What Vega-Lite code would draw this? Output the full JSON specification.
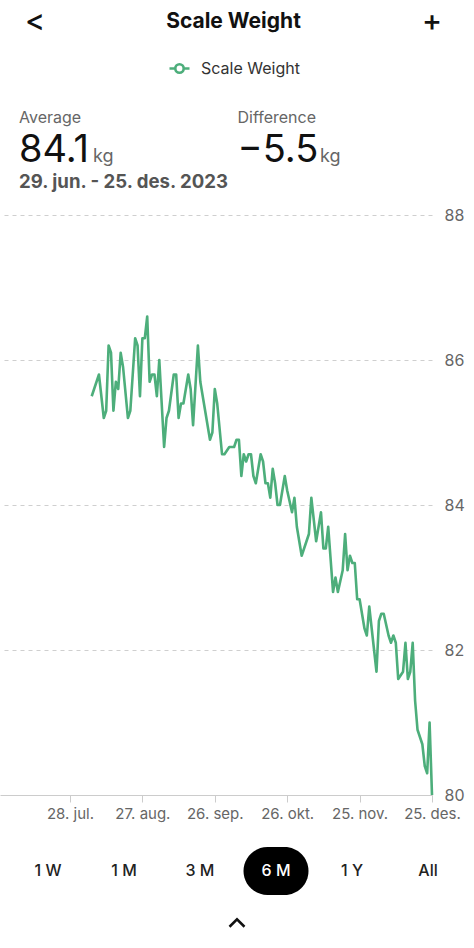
{
  "$schema": "https://vega.github.io/schema/vega-lite/v6.json",
  "padding": 0,
  "spacing": 0,
  "bounds": "flush",
  "background": "white",
  "config": {"view": {"stroke": null}, "font": "Inter"},
  "vconcat": [
    {
      "width": 474,
      "height": 44,
      "data": {"values": [
        {"slot": "back", "label": "<"},
        {"slot": "title", "label": "Scale Weight"},
        {"slot": "add", "label": "+"}
      ]},
      "encoding": {
        "x": {"field": "slot", "type": "nominal", "scale": {"type": "point", "padding": 0, "domain": ["back", "title", "add"], "range": [35, 432]}, "axis": null},
        "text": {"field": "label"}
      },
      "layer": [
        {"transform": [{"filter": "datum.slot == 'title'"}], "mark": {"type": "text", "fontSize": 21, "fontWeight": "bold", "color": "#111", "baseline": "middle", "align": "center"}},
        {"transform": [{"filter": "datum.slot != 'title'"}], "mark": {"type": "text", "fontSize": 30, "fontWeight": 500, "color": "#111", "baseline": "middle", "align": "center"}}
      ]
    },
    {
      "width": 474,
      "height": 171,
      "data": {"values": [
        {"stat": "Average", "value": "84.1", "unit": "kg", "period": "29. jun. - 25. des. 2023"},
        {"stat": "Difference", "value": "−5.5", "unit": "kg"}
      ]},
      "encoding": {
        "x": {"field": "stat", "type": "nominal", "scale": {"type": "point", "padding": 0, "domain": ["Average", "Difference"], "range": [19, 237.5]}, "axis": null}
      },
      "layer": [
        {
          "mark": {"type": "text", "fontSize": 16, "color": "#666", "align": "left", "baseline": "middle"},
          "encoding": {
            "y": {"datum": "label", "type": "nominal", "scale": {"type": "point", "padding": 0, "domain": ["label", "value", "period"], "range": [73.5, 137.5]}, "axis": null},
            "text": {"field": "stat"}
          }
        },
        {
          "mark": {"type": "text", "fontSize": 38, "color": "#111", "align": "left", "baseline": "alphabetic", "dy": 12.5},
          "encoding": {
            "y": {"datum": "value", "type": "nominal"},
            "text": {"field": "value"}
          }
        },
        {
          "transform": [{"filter": "datum.stat == 'Average'"}],
          "mark": {"type": "text", "fontSize": 18, "color": "#666", "align": "left", "baseline": "alphabetic", "dy": 12.5, "dx": 74},
          "encoding": {
            "y": {"datum": "value", "type": "nominal"},
            "text": {"field": "unit"}
          }
        },
        {
          "transform": [{"filter": "datum.stat == 'Difference'"}],
          "mark": {"type": "text", "fontSize": 18, "color": "#666", "align": "left", "baseline": "alphabetic", "dy": 12.5, "dx": 82.5},
          "encoding": {
            "y": {"datum": "value", "type": "nominal"},
            "text": {"field": "unit"}
          }
        },
        {
          "transform": [{"filter": "datum.stat == 'Average'"}],
          "mark": {"type": "text", "fontSize": 18.6, "fontWeight": "bold", "color": "#555", "align": "left", "baseline": "middle"},
          "encoding": {
            "y": {"datum": "period", "type": "nominal"},
            "text": {"field": "period"}
          }
        }
      ]
    },
    {
      "width": 432,
      "height": 580,
      "data": {"values": [
        {"date": "2023-08-06", "weight": 85.5},
        {"date": "2023-08-09", "weight": 85.8},
        {"date": "2023-08-11", "weight": 85.2},
        {"date": "2023-08-12", "weight": 85.3},
        {"date": "2023-08-13", "weight": 86.2},
        {"date": "2023-08-14", "weight": 86.1},
        {"date": "2023-08-15", "weight": 85.3},
        {"date": "2023-08-16", "weight": 85.7},
        {"date": "2023-08-17", "weight": 85.6},
        {"date": "2023-08-18", "weight": 86.1},
        {"date": "2023-08-19", "weight": 85.9},
        {"date": "2023-08-21", "weight": 85.2},
        {"date": "2023-08-22", "weight": 85.3},
        {"date": "2023-08-24", "weight": 86.3},
        {"date": "2023-08-25", "weight": 86.2},
        {"date": "2023-08-26", "weight": 85.5},
        {"date": "2023-08-27", "weight": 86.3},
        {"date": "2023-08-28", "weight": 86.3},
        {"date": "2023-08-29", "weight": 86.6},
        {"date": "2023-08-30", "weight": 85.7},
        {"date": "2023-08-31", "weight": 85.8},
        {"date": "2023-09-01", "weight": 85.8},
        {"date": "2023-09-02", "weight": 85.5},
        {"date": "2023-09-03", "weight": 86.0},
        {"date": "2023-09-05", "weight": 84.8},
        {"date": "2023-09-06", "weight": 85.2},
        {"date": "2023-09-07", "weight": 85.3},
        {"date": "2023-09-09", "weight": 85.8},
        {"date": "2023-09-10", "weight": 85.8},
        {"date": "2023-09-11", "weight": 85.2},
        {"date": "2023-09-12", "weight": 85.4},
        {"date": "2023-09-13", "weight": 85.4},
        {"date": "2023-09-15", "weight": 85.8},
        {"date": "2023-09-16", "weight": 85.6},
        {"date": "2023-09-17", "weight": 85.1},
        {"date": "2023-09-19", "weight": 86.2},
        {"date": "2023-09-20", "weight": 85.7},
        {"date": "2023-09-22", "weight": 85.3},
        {"date": "2023-09-24", "weight": 84.9},
        {"date": "2023-09-25", "weight": 85.0},
        {"date": "2023-09-26", "weight": 85.6},
        {"date": "2023-09-27", "weight": 85.4},
        {"date": "2023-09-29", "weight": 84.7},
        {"date": "2023-09-30", "weight": 84.7},
        {"date": "2023-10-02", "weight": 84.8},
        {"date": "2023-10-04", "weight": 84.8},
        {"date": "2023-10-05", "weight": 84.9},
        {"date": "2023-10-06", "weight": 84.9},
        {"date": "2023-10-07", "weight": 84.4},
        {"date": "2023-10-08", "weight": 84.7},
        {"date": "2023-10-09", "weight": 84.6},
        {"date": "2023-10-10", "weight": 84.7},
        {"date": "2023-10-11", "weight": 84.7},
        {"date": "2023-10-12", "weight": 84.4},
        {"date": "2023-10-13", "weight": 84.3},
        {"date": "2023-10-15", "weight": 84.7},
        {"date": "2023-10-16", "weight": 84.6},
        {"date": "2023-10-17", "weight": 84.3},
        {"date": "2023-10-18", "weight": 84.3},
        {"date": "2023-10-19", "weight": 84.1},
        {"date": "2023-10-20", "weight": 84.5},
        {"date": "2023-10-21", "weight": 84.3},
        {"date": "2023-10-22", "weight": 84.0},
        {"date": "2023-10-23", "weight": 84.0},
        {"date": "2023-10-25", "weight": 84.4},
        {"date": "2023-10-26", "weight": 84.2},
        {"date": "2023-10-28", "weight": 83.9},
        {"date": "2023-10-29", "weight": 84.1},
        {"date": "2023-10-30", "weight": 83.7},
        {"date": "2023-11-01", "weight": 83.3},
        {"date": "2023-11-04", "weight": 83.6},
        {"date": "2023-11-05", "weight": 84.1},
        {"date": "2023-11-07", "weight": 83.5},
        {"date": "2023-11-09", "weight": 83.9},
        {"date": "2023-11-10", "weight": 83.4},
        {"date": "2023-11-11", "weight": 83.4},
        {"date": "2023-11-12", "weight": 83.7},
        {"date": "2023-11-14", "weight": 82.8},
        {"date": "2023-11-15", "weight": 83.0},
        {"date": "2023-11-16", "weight": 82.8},
        {"date": "2023-11-18", "weight": 83.1},
        {"date": "2023-11-19", "weight": 83.6},
        {"date": "2023-11-20", "weight": 83.1},
        {"date": "2023-11-21", "weight": 83.3},
        {"date": "2023-11-22", "weight": 83.2},
        {"date": "2023-11-23", "weight": 83.2},
        {"date": "2023-11-24", "weight": 82.7},
        {"date": "2023-11-25", "weight": 82.7},
        {"date": "2023-11-27", "weight": 82.3},
        {"date": "2023-11-28", "weight": 82.2},
        {"date": "2023-11-29", "weight": 82.6},
        {"date": "2023-11-30", "weight": 82.3},
        {"date": "2023-12-01", "weight": 82.0},
        {"date": "2023-12-02", "weight": 81.7},
        {"date": "2023-12-03", "weight": 82.4},
        {"date": "2023-12-04", "weight": 82.5},
        {"date": "2023-12-05", "weight": 82.5},
        {"date": "2023-12-07", "weight": 82.2},
        {"date": "2023-12-08", "weight": 82.1},
        {"date": "2023-12-09", "weight": 82.2},
        {"date": "2023-12-10", "weight": 82.1},
        {"date": "2023-12-11", "weight": 81.6},
        {"date": "2023-12-13", "weight": 81.7},
        {"date": "2023-12-14", "weight": 82.1},
        {"date": "2023-12-15", "weight": 81.6},
        {"date": "2023-12-16", "weight": 81.7},
        {"date": "2023-12-17", "weight": 82.1},
        {"date": "2023-12-18", "weight": 81.3},
        {"date": "2023-12-19", "weight": 80.9},
        {"date": "2023-12-21", "weight": 80.7},
        {"date": "2023-12-22", "weight": 80.4},
        {"date": "2023-12-23", "weight": 80.3},
        {"date": "2023-12-24", "weight": 81.0},
        {"date": "2023-12-25", "weight": 80.0}
      ]},
      "mark": {"type": "line", "strokeWidth": 2.6, "strokeJoin": "round", "interpolate": "linear"},
      "encoding": {
        "x": {
          "field": "date", "type": "temporal",
          "scale": {"type": "utc", "domain": [{"year": 2023, "month": 6, "date": 29, "utc": true}, {"year": 2023, "month": 12, "date": 25, "utc": true}]},
          "axis": {
            "title": null,
            "values": [
              {"year": 2023, "month": 7, "date": 28, "utc": true},
              {"year": 2023, "month": 8, "date": 27, "utc": true},
              {"year": 2023, "month": 9, "date": 26, "utc": true},
              {"year": 2023, "month": 10, "date": 26, "utc": true},
              {"year": 2023, "month": 11, "date": 25, "utc": true},
              {"year": 2023, "month": 12, "date": 25, "utc": true}
            ],
            "labelExpr": "utcdate(datum.value) + '. ' + ['jan','feb','mar','apr','mai','jun','jul','aug','sep','okt','nov','des'][utcmonth(datum.value)] + '.'",
            "grid": false,
            "domainColor": "#cccccc",
            "tickColor": "#cccccc",
            "tickSize": 7,
            "labelFontSize": 15,
            "labelColor": "#666666",
            "labelPadding": 4,
            "labelOverlap": false,
            "labelFlush": false
          }
        },
        "y": {
          "field": "weight", "type": "quantitative",
          "scale": {"domain": [80, 88], "nice": false, "zero": false},
          "axis": {
            "title": null,
            "orient": "right",
            "values": [80, 82, 84, 86, 88],
            "grid": true,
            "gridDash": [4, 4],
            "gridColor": "#cfcfcf",
            "domain": false,
            "ticks": false,
            "labelPadding": 12,
            "labelFontSize": 16,
            "labelColor": "#666666"
          }
        },
        "color": {
          "datum": "Scale Weight",
          "type": "nominal",
          "scale": {"range": ["#4DAE7B"]},
          "legend": {
            "title": null,
            "orient": "none",
            "legendX": 168,
            "legendY": 57,
            "padding": 0,
            "symbolType": "M-1,0H-0.42M0.42,0H1M0.42,0A0.42,0.42,0,1,1,-0.42,0A0.42,0.42,0,1,1,0.42,0Z",
            "symbolSize": 400,
            "symbolStrokeWidth": 2.6,
            "symbolFillColor": "white",
            "symbolStrokeColor": "#4DAE7B",
            "labelFontSize": 16,
            "labelColor": "#333333",
            "labelOffset": 10,
            "encode": {"symbols": {"update": {"fill": {"value": "white"}, "stroke": {"value": "#4DAE7B"}, "strokeWidth": {"value": 2.6}, "opacity": {"value": 1}}}}
          }
        }
      }
    },
    {
      "width": 474,
      "height": 153,
      "layer": [
        {
          "data": {"values": [
            {"range": "1 W", "selected": false},
            {"range": "1 M", "selected": false},
            {"range": "3 M", "selected": false},
            {"range": "6 M", "selected": true},
            {"range": "1 Y", "selected": false},
            {"range": "All", "selected": false}
          ]},
          "encoding": {
            "x": {"field": "range", "type": "nominal", "scale": {"type": "point", "padding": 0, "domain": ["1 W", "1 M", "3 M", "6 M", "1 Y", "All"], "range": [48, 428]}, "axis": null},
            "y": {"datum": "ranges", "type": "nominal", "scale": {"type": "point", "padding": 0, "domain": ["ranges", "expand"], "range": [76, 128]}, "axis": null}
          },
          "layer": [
            {
              "transform": [{"filter": "datum.selected"}],
              "mark": {"type": "point", "filled": true, "color": "#000000", "opacity": 1, "size": 4225, "shape": "M-0.2615,-0.7385H0.2615A0.7385,0.7385,0,0,1,0.2615,0.7385H-0.2615A0.7385,0.7385,0,0,1,-0.2615,-0.7385Z"}
            },
            {
              "mark": {"type": "text", "fontSize": 16, "fontWeight": 500, "baseline": "middle", "align": "center"},
              "encoding": {
                "text": {"field": "range"},
                "color": {"condition": {"test": "datum.selected", "value": "#ffffff"}, "value": "#222222"}
              }
            }
          ]
        },
        {
          "data": {"values": [{"control": "expand"}]},
          "mark": {"type": "point", "filled": false, "color": "#111111", "opacity": 1, "strokeWidth": 2.5, "size": 225, "shape": "M-1,0.5L0,-0.5L1,0.5"},
          "encoding": {
            "y": {"datum": "expand", "type": "nominal"}
          }
        }
      ]
    }
  ]
}
